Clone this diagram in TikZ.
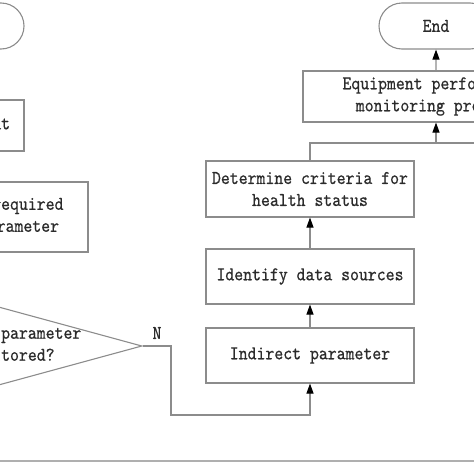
\documentclass[tikz,border=0pt]{standalone}
\usepackage{fontspec}
\usetikzlibrary{shapes.geometric,shapes.misc,arrows.meta,positioning}
\newfontfamily\flowfont{lmmono10-regular.otf}[FakeStretch=0.87,FakeBold=0.6]
\definecolor{linegray}{HTML}{8C8C8C}
\definecolor{textgray}{HTML}{2B2B2B}

\begin{document}
\begin{tikzpicture}[x=1pt,y=-1pt,
  every node/.style={font=\flowfont\fontsize{19.5}{22}\selectfont, text=textgray},
  terminal/.style={draw=linegray, line width=1.1pt, rounded rectangle, minimum width=#1, minimum height=46pt, inner sep=0pt},
  stepbox/.style={draw=linegray, line width=1.1pt, align=center, inner sep=0pt},
  decision/.style={draw=linegray, line width=1.1pt, diamond, aspect=3.66, minimum width=344pt, minimum height=94pt, inner sep=0pt},
  link/.style={draw=linegray, line width=1.1pt},
  flow/.style={link, -{Triangle[length=10pt,width=7pt,color=black]}}]
\useasboundingbox (0,0) rectangle (474,474);
\clip (0,0) rectangle (474,474);

% left column
\node[terminal=108pt] (start) at (-30,26) {Start};
\node[stepbox, minimum width=108pt, minimum height=51pt] (equipment) at (-30,125.5) {Equipment};
\node[stepbox, minimum width=236pt, minimum height=70pt] (required) at (-30,217) {Identify the required\\monitoring parameter};
\node[decision] (check) at (-30,346) {};
\node[align=center, inner sep=0pt] (checktext) at (check) {Is the required parameter\\directly monitored?};

% right column
\node[stepbox, minimum width=208pt, minimum height=55pt] (indirect) at (310,355.5) {Indirect parameter};
\node[stepbox, minimum width=208pt, minimum height=55pt] (sources) at (310,276.5) {Identify data sources};
\node[stepbox, minimum width=208pt, minimum height=56pt] (criteria) at (310,189) {Determine criteria for\\health status};
\node[stepbox, minimum width=266pt, minimum height=51pt] (process) at (436,96.5) {Equipment performance\\monitoring process};
\node[terminal=114pt] (end) at (436,26) {End};

\coordinate (nturn) at (171,415);
\coordinate (level) at (0,143);
\coordinate (rightin) at (490,143);
\node (nlabel) at (157,333) {N};

\draw[flow] (start) -- (equipment);
\draw[flow] (equipment) -- (required);
\draw[flow] (required) -- (check);
\draw[flow] (check.east) -| (nturn) -| (indirect.south);
\draw[flow] (indirect) -- (sources);
\draw[flow] (sources) -- (criteria);
\draw[flow] (criteria.north) |- (process.south |- level) -- (process.south);
\draw[link] (rightin) -- (process.south |- level);
\draw[flow] (process) -- (end);

\draw[draw=linegray!70, line width=1.4pt] (-10,461) -- (490,461);
\end{tikzpicture}
\end{document}
